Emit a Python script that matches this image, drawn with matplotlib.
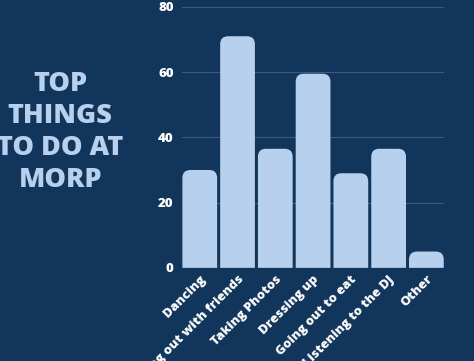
'''top things to do at morp - bar chart'''

import matplotlib
matplotlib.use('Agg')
import matplotlib.pyplot as plt
from matplotlib.patches import PathPatch
from matplotlib.path import Path

BG = '#12355b'
BAR = '#b6d0ee'

activities = ['Dancing', 'Hanging out with friends', 'Taking Photos', 'Dressing up',
              'Going out to eat', 'Listening to the DJ', 'Other']
votes = [30, 71, 36.5, 59.5, 29, 36.5, 5]
y_ticks = [0, 20, 40, 60, 80]


def rounded_top(x, w, h, rx, ry):
    '''path of a bar with rounded top corners only'''
    verts = [(x, 0), (x, h - ry), (x, h), (x + rx, h), (x + w - rx, h),
             (x + w, h), (x + w, h - ry), (x + w, 0), (x, 0)]
    codes = [Path.MOVETO, Path.LINETO, Path.CURVE3, Path.CURVE3, Path.LINETO,
             Path.CURVE3, Path.CURVE3, Path.LINETO, Path.CLOSEPOLY]
    return Path(verts, codes)


fig = plt.figure(figsize=(4.74, 3.61), dpi=100, facecolor=BG)
ax = fig.add_axes([0.384, 0.258, 0.553, 0.723], facecolor=BG)

bars = ax.bar(range(len(activities)), votes, width=0.92, color=BAR)
ax.set_xlim(-0.47, len(activities) - 0.53)
ax.set_ylim(0, 80)

# swap plain bars for ones with rounded tops (radius ~8 px)
rx = 8 / 38.0
ry = 8 * 80 / 261.0
for b in bars:
    x, w, h = b.get_x(), b.get_width(), b.get_height()
    b.set_visible(False)
    ax.add_patch(PathPatch(rounded_top(x, w, h, rx, min(ry, h)),
                           fc=BAR, ec='none', zorder=3))

ax.set_yticks(y_ticks)
ax.set_yticklabels([str(t) for t in y_ticks], color='white', fontweight='heavy',
                   fontsize=9.5, family='Open Sans')
ax.set_xticks(range(len(activities)))
ax.set_xticklabels(activities, rotation=45, ha='right', rotation_mode='anchor',
                   color='white', fontweight='heavy', fontsize=9.3, family='Open Sans')
ax.tick_params(length=0, pad=6)
ax.tick_params(axis='x', pad=4)
ax.grid(axis='y', color='#3a5a80', linewidth=0.8, zorder=0)
for s in ax.spines.values():
    s.set_visible(False)

fig.text(0.127, 0.635, 'TOP\nTHINGS\nTO DO AT\nMORP', ha='center', va='center',
         color='#b6d0ee', fontsize=19.5, fontweight='heavy', family='Open Sans',
         linespacing=1.3)

fig.savefig('out.png', facecolor=BG)
